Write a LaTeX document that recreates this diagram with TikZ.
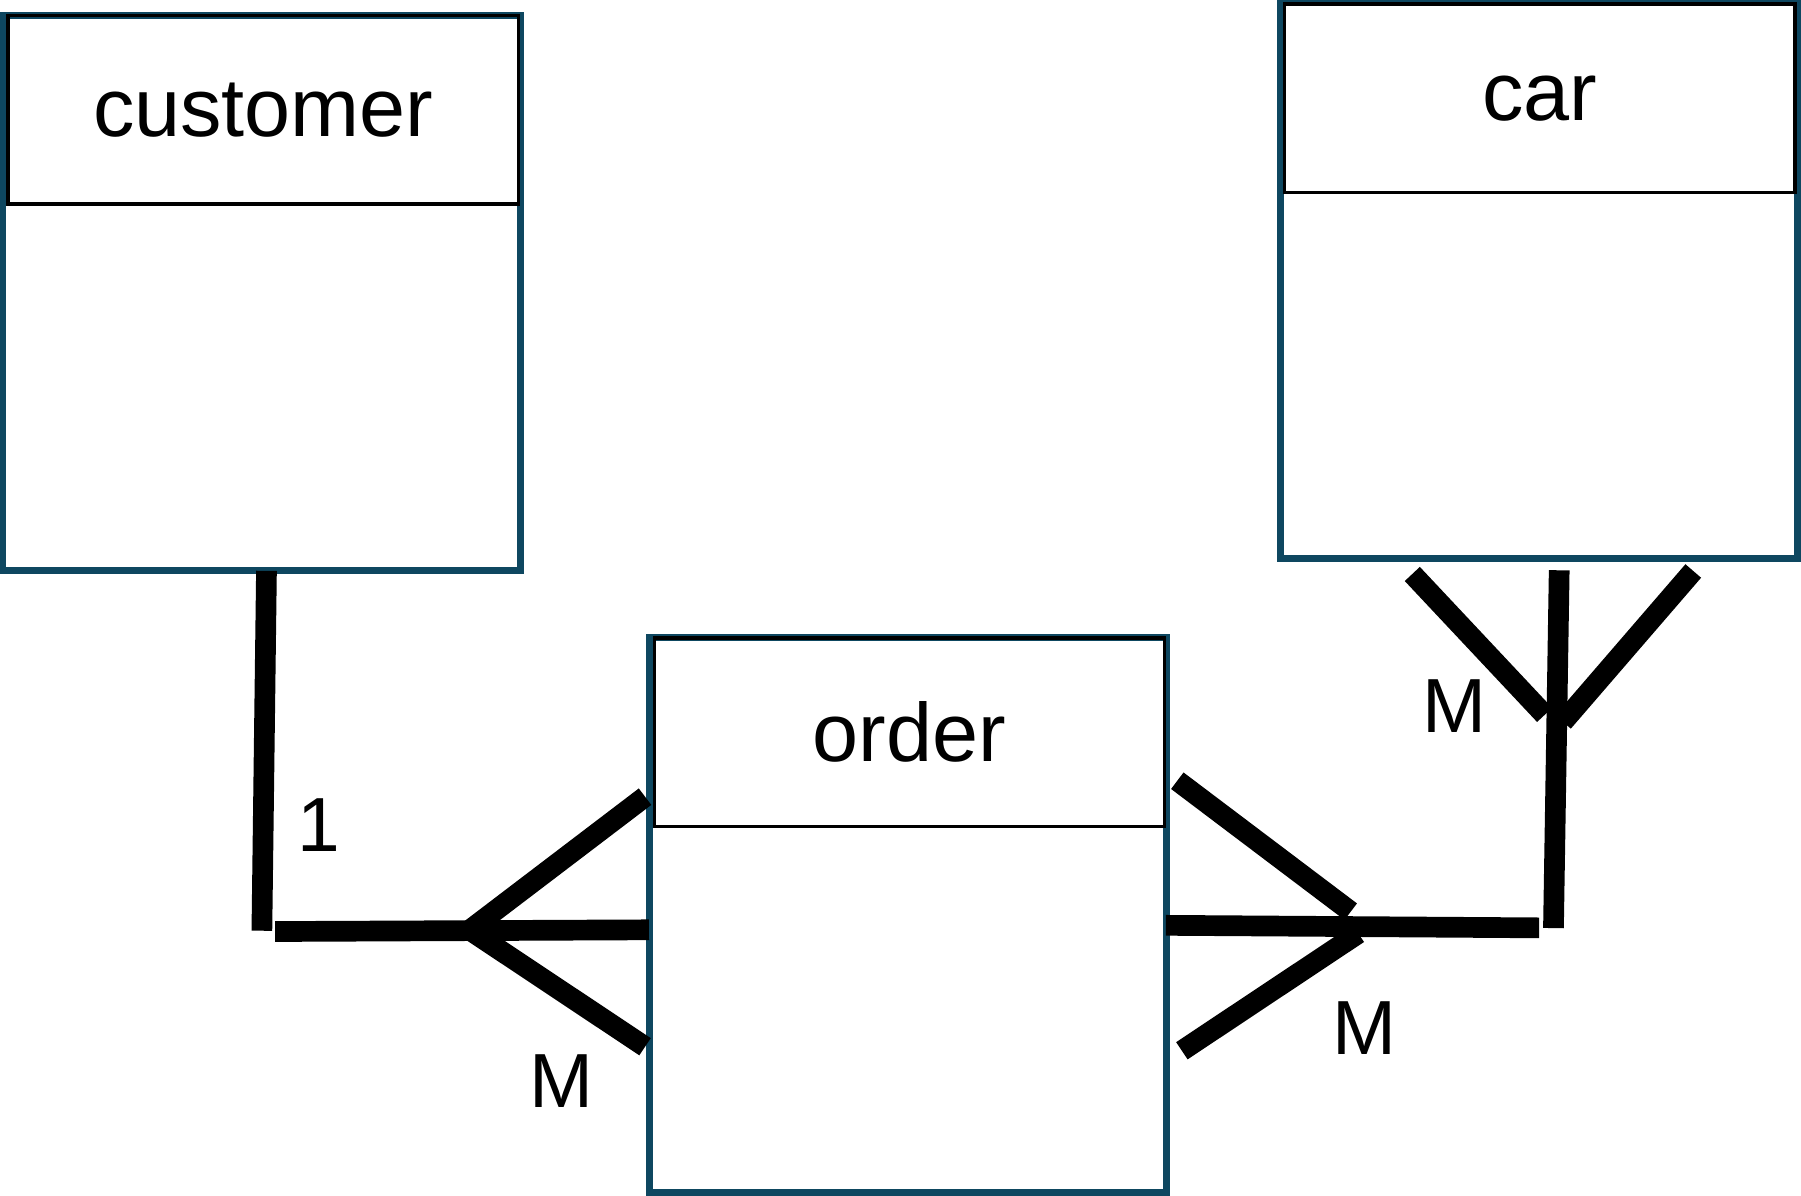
\documentclass[tikz,border=0pt]{standalone}
\usepackage{fontspec}
\setmainfont{Liberation Sans}
\usepackage{tikz}
\definecolor{entityblue}{RGB}{14,71,96}
\tikzset{
  entity/.style={draw=entityblue,line width=0.061cm,minimum width=4.5cm,
    minimum height=4.83cm,inner sep=0pt,outer sep=0pt},
  head/.style={draw=black,line width=0.029cm,minimum width=4.44cm,
    minimum height=1.64cm,inner sep=0pt,outer sep=0pt,anchor=north,
    font=\fontsize{20.5}{24}\selectfont},
  card/.style={font=\fontsize{19}{22}\selectfont,inner sep=0pt},
  link/.style={line width=0.18cm}
}

\begin{document}
\begin{tikzpicture}[x=0.01cm,y=-0.01cm]
    \useasboundingbox (0,0) rectangle (1568,1041);
    \node[entity] (customer) at (227.7,255.1) {};
    \node[head] (customer-head) at (229.2,13.6) {customer};
    \node[entity] (car) at (1339.7,242.5) [minimum height=4.87cm] {};
    \node[head] (car-head) at (1340.5,3.5) {car};
    \node[entity] (order) at (790.8,796.6) {};
    \node[head] (order-head) at (791.9,555.5) {order};

    \coordinate (cust-top) at (232,497);
    \coordinate (cust-bot) at (228,810.3);
    \coordinate (left-end) at (239.5,811);
    \coordinate (left-fork) at (409,809.7);
    \coordinate (ord-west) at (565,809.5);
    \coordinate (ord-west-up) at (561.6,693.6);
    \coordinate (ord-west-low) at (561.6,911.3);
    \draw[link] (cust-top) -- (cust-bot);
    \draw[link] (left-end) -- (ord-west);
    \draw[link] (left-fork) -- (ord-west-up);
    \draw[link] (left-fork) -- (ord-west-low);
    \node[card] (one) at (277.5,718.7) {1};
    \node[card] (left-many) at (489,941) {M};

    \coordinate (ord-east) at (1015,805.6);
    \coordinate (right-end) at (1340,807.8);
    \coordinate (ord-east-up) at (1025,679.7);
    \coordinate (right-fork-up) at (1176,793.7);
    \coordinate (ord-east-low) at (1029,914.8);
    \coordinate (right-fork-low) at (1182.6,812.6);
    \draw[link] (ord-east) -- (right-end);
    \draw[link] (ord-east-up) -- (right-fork-up);
    \draw[link] (ord-east-low) -- (right-fork-low);
    \node[card] (right-many) at (1188,895) {M};

    \coordinate (car-bot) at (1352.5,808);
    \coordinate (car-top) at (1357.5,496.5);
    \coordinate (car-left) at (1229.6,499.7);
    \coordinate (car-fork-left) at (1344.8,622.4);
    \coordinate (car-right) at (1474.2,497.1);
    \coordinate (car-fork-right) at (1360.8,628.5);
    \draw[link] (car-bot) -- (car-top);
    \draw[link] (car-left) -- (car-fork-left);
    \draw[link] (car-right) -- (car-fork-right);
    \node[card] (car-many) at (1266.4,615) {M};
\end{tikzpicture}
\end{document}
